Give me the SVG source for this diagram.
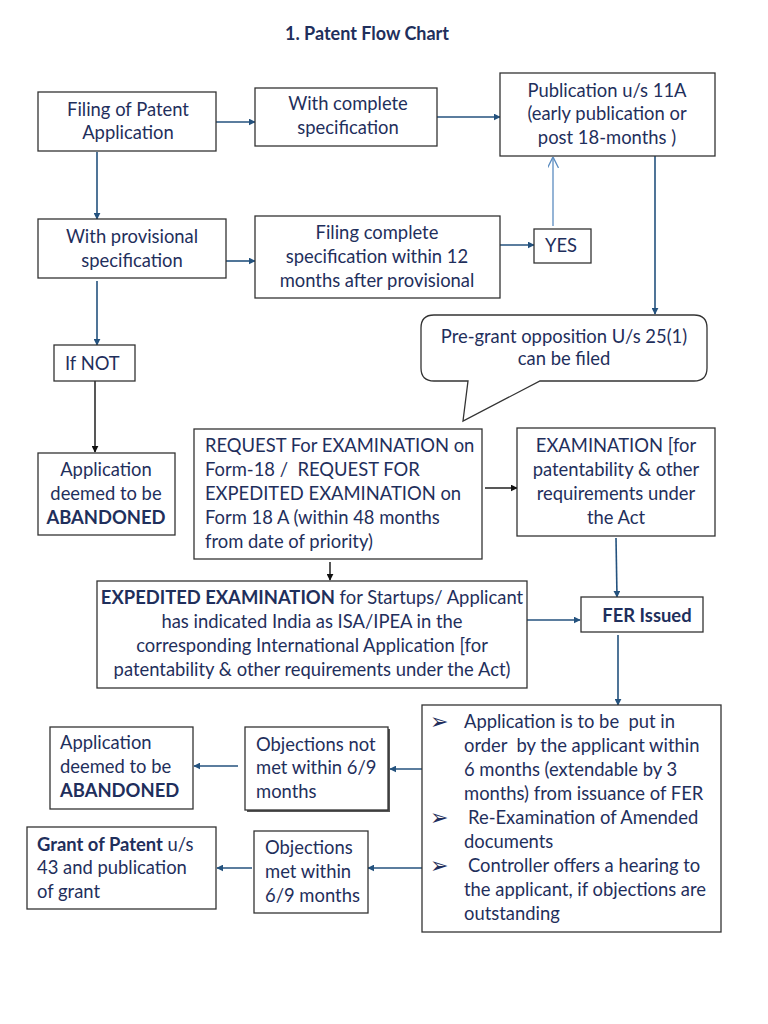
<svg xmlns="http://www.w3.org/2000/svg" width="768" height="1024" viewBox="0 0 768 1024">
<style>
text{font-family:Lato,"Open Sans","Liberation Sans",sans-serif;font-size:18.4px;fill:#1f2f5c}
.c{text-anchor:middle}
.b{font-weight:bold}
.bul{font-family:"DejaVu Sans",sans-serif;font-size:22px;font-weight:bold}
.box{fill:#fff;stroke:#333;stroke-width:1.3}
.ab{stroke:#24527e;stroke-width:1.6;fill:none}
.ak{stroke:#111;stroke-width:1.4;fill:none}
.ao{stroke:#5b8cc0;stroke-width:1.3;fill:none}
</style>
<defs>
<marker id="mb" viewBox="0 0 10 10" refX="9" refY="5" markerWidth="7" markerHeight="7" markerUnits="userSpaceOnUse" orient="auto"><path d="M0,0L10,5L0,10Z" fill="#24527e"/></marker>
<marker id="mk" viewBox="0 0 10 10" refX="9" refY="5" markerWidth="7" markerHeight="7" markerUnits="userSpaceOnUse" orient="auto"><path d="M0,0L10,5L0,10Z" fill="#111"/></marker>
<marker id="mo" viewBox="0 0 10 10" refX="9" refY="5" markerWidth="11" markerHeight="11" markerUnits="userSpaceOnUse" orient="auto"><path d="M0,0L10,5L0,10" fill="none" stroke="#5b8cc0" stroke-width="1.2"/></marker>
</defs>
<rect width="768" height="1024" fill="#fff"/>
<text x="367" y="40" class="c b" style="font-size:18px">1. Patent Flow Chart</text>

<g id="connectors">
<line class="ab" x1="216" y1="122" x2="255" y2="122" marker-end="url(#mb)"/>
<line class="ab" x1="437" y1="117" x2="500" y2="117" marker-end="url(#mb)"/>
<line class="ab" x1="97" y1="152" x2="97" y2="219" marker-end="url(#mb)"/>
<line class="ab" x1="226" y1="261" x2="255" y2="261" marker-end="url(#mb)"/>
<line class="ab" x1="500" y1="245" x2="534" y2="245" marker-end="url(#mb)"/>
<line class="ao" x1="553" y1="226" x2="553" y2="158" marker-end="url(#mo)"/>
<line class="ab" x1="655" y1="156" x2="655" y2="314" marker-end="url(#mb)"/>
<line class="ab" x1="97" y1="281" x2="97" y2="345" marker-end="url(#mb)"/>
<line class="ak" x1="95" y1="381" x2="95" y2="452" marker-end="url(#mk)"/>
<line class="ak" x1="485" y1="488" x2="517" y2="488" marker-end="url(#mk)"/>
<line class="ak" x1="330" y1="562" x2="330" y2="580" marker-end="url(#mk)"/>
<line class="ab" x1="524" y1="620" x2="580" y2="620" marker-end="url(#mb)"/>
<line class="ab" x1="616" y1="538" x2="617" y2="597" marker-end="url(#mb)"/>
<line class="ab" x1="618" y1="635" x2="618" y2="705" marker-end="url(#mb)"/>
<line class="ab" x1="425" y1="769" x2="390" y2="769" marker-end="url(#mb)"/>
<line class="ab" x1="238" y1="766" x2="194" y2="766" marker-end="url(#mb)"/>
<line class="ab" x1="422" y1="868" x2="368" y2="868" marker-end="url(#mb)"/>
<line class="ab" x1="252" y1="868" x2="217" y2="868" marker-end="url(#mb)"/>
</g>

<g id="filing">
<rect class="box" x="38" y="92" width="178" height="59"/>
<text x="128" y="116" class="c">Filing of Patent</text>
<text x="128" y="139" class="c">Application</text>
</g>
<g id="complete">
<rect class="box" x="255" y="88" width="182" height="58"/>
<text x="348" y="110" class="c">With complete</text>
<text x="348" y="134" class="c">specification</text>
</g>
<g id="publication">
<rect class="box" x="500" y="73" width="215" height="83"/>
<text x="607" y="97" class="c">Publication u/s 11A</text>
<text x="607" y="120" class="c">(early publication or</text>
<text x="607" y="144" class="c">post 18-months )</text>
</g>
<g id="provisional">
<rect class="box" x="38" y="219" width="188" height="59"/>
<text x="132" y="243" class="c">With provisional</text>
<text x="132" y="267" class="c">specification</text>
</g>
<g id="filingcomplete">
<rect class="box" x="255" y="216" width="245" height="82"/>
<text x="377" y="239" class="c">Filing complete</text>
<text x="377" y="263" class="c">specification within 12</text>
<text x="377" y="287" class="c">months after provisional</text>
</g>
<g id="yes">
<rect class="box" x="534" y="229" width="57" height="34"/>
<text x="545" y="252">YES</text>
</g>
<g id="opposition">
<path class="box" d="M434,315H694Q707,315 707,328V368Q707,381 694,381H540L463,421L468,381H434Q421,381 421,368V328Q421,315 434,315Z"/>
<text x="564" y="343" class="c">Pre-grant opposition U/s 25(1)</text>
<text x="564" y="365" class="c">can be filed</text>
</g>
<g id="ifnot">
<rect class="box" x="54" y="345" width="81" height="36"/>
<text x="65" y="370">If NOT</text>
</g>
<g id="abandoned1">
<rect class="box" x="38" y="453" width="137" height="82"/>
<text x="106" y="476" class="c">Application</text>
<text x="106" y="500" class="c">deemed to be</text>
<text x="106" y="524" class="c b">ABANDONED</text>
</g>
<g id="request">
<rect class="box" x="194" y="429" width="288" height="130"/>
<text x="205" y="452">REQUEST For EXAMINATION on</text>
<text x="205" y="476" xml:space="preserve">Form-18 /  REQUEST FOR</text>
<text x="205" y="500">EXPEDITED EXAMINATION on</text>
<text x="205" y="524">Form 18 A (within 48 months</text>
<text x="205" y="548">from date of priority)</text>
</g>
<g id="examination">
<rect class="box" x="517" y="428" width="198" height="108"/>
<text x="616" y="452" class="c">EXAMINATION [for</text>
<text x="616" y="476" class="c">patentability &amp; other</text>
<text x="616" y="500" class="c">requirements under</text>
<text x="616" y="524" class="c">the Act</text>
</g>
<g id="expedited">
<rect class="box" x="97" y="581" width="430" height="107"/>
<text x="312" y="604" class="c"><tspan class="b">EXPEDITED EXAMINATION</tspan> for Startups/ Applicant</text>
<text x="312" y="628" class="c">has indicated India as ISA/IPEA in the</text>
<text x="312" y="652" class="c">corresponding International Application [for</text>
<text x="312" y="676" class="c">patentability &amp; other requirements under the Act)</text>
</g>
<g id="fer">
<rect class="box" x="581" y="597" width="122" height="35"/>
<text x="647" y="622" class="c b">FER Issued</text>
</g>
<g id="steps">
<rect class="box" x="422" y="705" width="299" height="227"/>
<text x="430" y="729" class="bul">➢</text>
<text x="464" y="728" xml:space="preserve">Application is to be  put in</text>
<text x="464" y="752" xml:space="preserve">order  by the applicant within</text>
<text x="464" y="776">6 months (extendable by 3</text>
<text x="464" y="800">months) from issuance of FER</text>
<text x="430" y="825" class="bul">➢</text>
<text x="468" y="824">Re-Examination of Amended</text>
<text x="464" y="848">documents</text>
<text x="430" y="873" class="bul">➢</text>
<text x="468" y="872">Controller offers a hearing to</text>
<text x="464" y="896">the applicant, if objections are</text>
<text x="464" y="920">outstanding</text>
</g>
<g id="abandoned2">
<rect class="box" x="50" y="727" width="143" height="82"/>
<text x="60" y="749">Application</text>
<text x="60" y="773">deemed to be</text>
<text x="60" y="797" class="b">ABANDONED</text>
</g>
<g id="notmet">
<rect x="247" y="729" width="143" height="83" fill="#555"/>
<rect class="box" x="245" y="727" width="143" height="83"/>
<text x="256" y="751">Objections not</text>
<text x="256" y="774">met within 6/9</text>
<text x="256" y="798">months</text>
</g>
<g id="grant">
<rect class="box" x="27" y="827" width="189" height="82"/>
<text x="37" y="851"><tspan class="b">Grant of Patent</tspan> u/s</text>
<text x="37" y="874">43 and publication</text>
<text x="37" y="898">of grant</text>
</g>
<g id="met">
<rect class="box" x="254" y="831" width="114" height="82"/>
<text x="265" y="854">Objections</text>
<text x="265" y="878">met within</text>
<text x="265" y="902">6/9 months</text>
</g>
</svg>
